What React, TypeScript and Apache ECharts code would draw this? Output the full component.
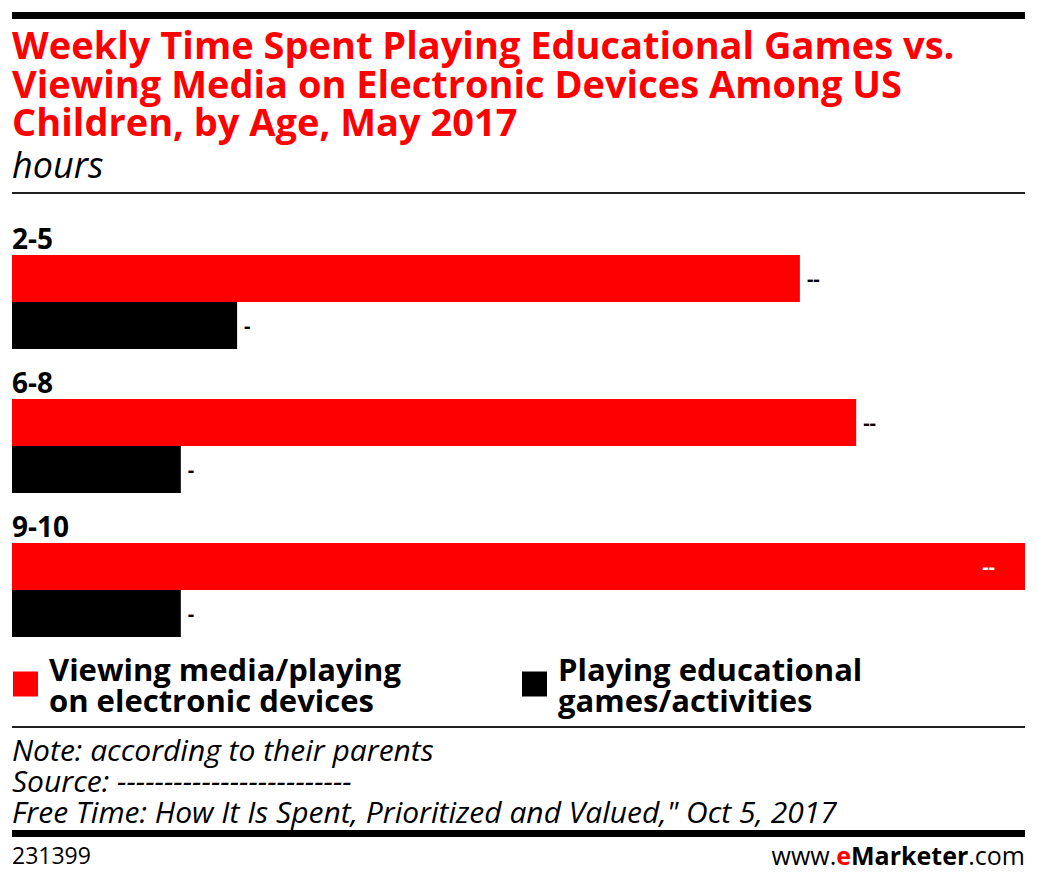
import React, { useEffect, useRef } from "react";
import * as echarts from "echarts";

const categories = ["2-5", "6-8", "9-10"];
const seriesNames = [
  "Viewing media/playing\non electronic devices",
  "Playing educational\ngames/activities",
];
const viewingValues = [14, 15, 18];
const educationalValues = [4, 3, 3];
const viewingLabels = ["--", "--", "--"];
const educationalLabels = ["-", "-", "-"];
const axisMax = 18;

const titleLines = [
  "Weekly Time Spent Playing Educational Games vs.",
  "Viewing Media on Electronic Devices Among US",
  "Children, by Age, May 2017",
];
const noteLines = [
  "Note: according to their parents",
  "Source: -------------------------",
  "Free Time: How It Is Spent, Prioritized and Valued,\" Oct 5, 2017",
];

const FONT = "'Open Sans', 'Liberation Sans', Arial, sans-serif";
const RED = "#ff0000";

export default function App() {
  const ref = useRef<HTMLDivElement>(null);
  useEffect(() => {
    if (!ref.current) return;
    const chart = echarts.init(ref.current, null, { renderer: "svg" });
    const graphics: any[] = [
      { type: "rect", shape: { x: 12, y: 12, width: 1013, height: 7 }, style: { fill: "#000" } },
      { type: "rect", shape: { x: 12, y: 192, width: 1013, height: 2 }, style: { fill: "#222" } },
      { type: "rect", shape: { x: 12, y: 726, width: 1013, height: 2 }, style: { fill: "#222" } },
      { type: "rect", shape: { x: 12, y: 830, width: 1013, height: 7 }, style: { fill: "#000" } },
      {
        type: "text",
        x: 12,
        y: 82.5,
        style: {
          text: titleLines.join("\n"),
          fill: RED,
          font: `bold 38px ${FONT}`,
          lineHeight: 38.5,
          verticalAlign: "middle",
          align: "left",
        },
      },
      {
        type: "text",
        x: 12,
        y: 164,
        style: { text: "hours", fill: "#000", font: `italic 36px ${FONT}`, verticalAlign: "middle", align: "left" },
      },
      {
        type: "text",
        x: 12,
        y: 780,
        style: {
          text: noteLines.join("\n"),
          fill: "#000",
          font: `italic 30px ${FONT}`,
          lineHeight: 31,
          verticalAlign: "middle",
          align: "left",
        },
      },
      {
        type: "text",
        x: 12,
        y: 855,
        style: { text: "231399", fill: "#000", font: `23px ${FONT}`, verticalAlign: "middle", align: "left" },
      },
      {
        type: "text",
        x: 1025,
        y: 855,
        style: {
          text: "{a|www.}{b|e}{c|Marketer}{a|.com}",
          align: "right",
          verticalAlign: "middle",
          rich: {
            a: { fontSize: 25, fontFamily: FONT, fill: "#000" },
            b: { fontSize: 25, fontFamily: FONT, fontWeight: "bold", fill: RED },
            c: { fontSize: 25, fontFamily: FONT, fontWeight: "bold", fill: "#000" },
          },
        },
      },
    ];

    const legendCommon = {
      top: 653,
      itemWidth: 25,
      itemHeight: 25,
      icon: "rect",
      padding: 0,
      selectedMode: false,
      textStyle: { fontFamily: FONT, fontSize: 31, fontWeight: "bold", color: "#000", lineHeight: 31, padding: [0, 0, 0, 6] },
    };

    chart.setOption({
      animation: false,
      textStyle: { fontFamily: FONT },
      graphic: graphics,
      legend: [
        { ...legendCommon, left: 13, data: [seriesNames[0]] },
        { ...legendCommon, left: 522, data: [seriesNames[1]] },
      ],
      grid: { left: 12, right: 13, top: 230, bottom: 220, containLabel: false },
      xAxis: { type: "value", min: 0, max: axisMax, show: false },
      yAxis: {
        type: "category",
        data: categories,
        inverse: true,
        z: 10,
        axisLine: { show: false },
        axisTick: { show: false },
        axisLabel: {
          inside: true,
          interval: 0,
          hideOverlap: false,
          margin: 0,
          align: "left",
          verticalAlign: "bottom",
          lineHeight: 128,
          fontSize: 28,
          fontWeight: "bold",
          color: "#000",
          fontFamily: FONT,
        },
      },
      series: [
        {
          type: "bar",
          name: seriesNames[0],
          barWidth: 47,
          barGap: "0%",
          itemStyle: { color: RED },
          data: viewingValues.map((v) =>
            v >= axisMax
              ? { value: v, label: { position: "insideRight", distance: 30, color: "#fff" } }
              : v
          ),
          label: {
            show: true,
            position: "right",
            distance: 7,
            fontSize: 20,
            fontWeight: "bold",
            color: "#000",
            fontFamily: FONT,
            formatter: (p: any) => viewingLabels[p.dataIndex],
          },
        },
        {
          type: "bar",
          name: seriesNames[1],
          barWidth: 47,
          barGap: "0%",
          itemStyle: { color: "#000" },
          data: educationalValues,
          label: {
            show: true,
            position: "right",
            distance: 7,
            fontSize: 20,
            fontWeight: "bold",
            color: "#000",
            fontFamily: FONT,
            formatter: (p: any) => educationalLabels[p.dataIndex],
          },
        },
      ],
    });
    return () => chart.dispose();
  }, []);
  return <div ref={ref} style={{ position: "absolute", left: 0, top: 0, width: 1038, height: 882 }} />;
}
